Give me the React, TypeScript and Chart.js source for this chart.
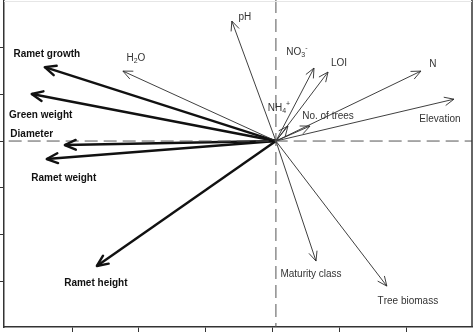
import React, { useEffect, useRef } from 'react';
import { Chart, registerables } from 'chart.js';

Chart.register(...registerables);

// Response variables (bold arrows)
const responseNames = ['Ramet growth', 'Green weight', 'Diameter', 'Ramet weight', 'Ramet height'];
const responseX = [-0.692, -0.731, -0.632, -0.686, -0.536];
const responseY = [0.316, 0.201, -0.017, -0.077, -0.534];
const responseLabelX = [-0.686, -0.704, -0.731, -0.635, -0.539];
const responseLabelY = [0.372, 0.111, 0.03, -0.158, -0.607];

// Environmental variables (thin arrows); "_" = subscript, "^" = superscript
const envNames = ['H_2O', 'pH', 'NO_3^-', 'LOI', 'N', 'Elevation', 'NH_4^+', 'No. of trees', 'Maturity class', 'Tree biomass'];
const envX = [-0.458, -0.132, 0.114, 0.156, 0.434, 0.533, 0.036, 0.102, 0.12, 0.332];
const envY = [0.299, 0.513, 0.312, 0.295, 0.299, 0.179, 0.064, 0.064, -0.513, -0.62];
const envLabelX = [-0.419, -0.093, 0.063, 0.189, 0.47, 0.491, 0.009, 0.156, 0.105, 0.395];
const envLabelY = [0.355, 0.53, 0.38, 0.333, 0.329, 0.094, 0.141, 0.107, -0.568, -0.684];

// Unlabelled axis ticks
const xTicks = [-0.61, -0.41, -0.21, -0.01, 0.19, 0.39];
const yTicks = [0.4, 0.2, 0, -0.2, -0.4, -0.6];
const xMin = -0.814, xMax = 0.587;
const yMin = -0.795, yMax = 0.603;

const FONT = '"Liberation Sans", Arial, Helvetica, sans-serif';

function drawRich(ctx: CanvasRenderingContext2D, text: string, cx: number, cy: number, size: number, weight: string, color: string) {
  const segs: { t: string; k: number }[] = [];
  for (let i = 0; i < text.length; i++) {
    const c = text[i];
    if ((c === '_' || c === '^') && i + 1 < text.length) {
      segs.push({ t: text[i + 1], k: c === '_' ? 1 : -1 });
      i++;
    } else segs.push({ t: c, k: 0 });
  }
  const small = Math.round(size * 0.72);
  let w = 0;
  for (const s of segs) {
    ctx.font = `${weight} ${s.k ? small : size}px ${FONT}`;
    w += ctx.measureText(s.t).width;
  }
  let x = cx - w / 2;
  ctx.fillStyle = color;
  ctx.textBaseline = 'middle';
  ctx.textAlign = 'left';
  for (const s of segs) {
    ctx.font = `${weight} ${s.k ? small : size}px ${FONT}`;
    const dy = s.k === 1 ? 3 : s.k === -1 ? -4 : 0;
    ctx.fillText(s.t, x, cy + dy);
    x += ctx.measureText(s.t).width;
  }
}

const arrowPlugin = {
  id: 'arrowPlugin',
  afterDatasetsDraw(chart: any) {
    const ctx: CanvasRenderingContext2D = chart.ctx;
    const xs = chart.scales.x, ys = chart.scales.y;
    const area = chart.chartArea;
    // frame (right + faint top)
    ctx.save();
    ctx.strokeStyle = '#333';
    ctx.lineWidth = 1.5;
    ctx.beginPath();
    ctx.moveTo(area.right, area.top);
    ctx.lineTo(area.right, area.bottom);
    ctx.stroke();
    ctx.strokeStyle = '#e6e6e6';
    ctx.lineWidth = 1;
    ctx.beginPath();
    ctx.moveTo(area.left, area.top + 1.5);
    ctx.lineTo(area.right, area.top + 1.5);
    ctx.stroke();
    ctx.restore();

    chart.data.datasets.forEach((ds: any) => {
      if (!ds.arrow) return;
      const p0 = ds.data[0], p1 = ds.data[1];
      const ox = xs.getPixelForValue(p0.x), oy = ys.getPixelForValue(p0.y);
      const tx = xs.getPixelForValue(p1.x), ty = ys.getPixelForValue(p1.y);
      const ang = Math.atan2(ty - oy, tx - ox);
      const L = ds.headLen, a = 0.42;
      ctx.save();
      ctx.strokeStyle = ds.borderColor;
      ctx.lineWidth = ds.borderWidth;
      ctx.lineCap = 'round';
      ctx.lineJoin = 'round';
      ctx.beginPath();
      ctx.moveTo(tx - L * Math.cos(ang - a), ty - L * Math.sin(ang - a));
      ctx.lineTo(tx, ty);
      ctx.lineTo(tx - L * Math.cos(ang + a), ty - L * Math.sin(ang + a));
      ctx.stroke();
      ctx.restore();
      const lx = xs.getPixelForValue(ds.labelPos.x), ly = ys.getPixelForValue(ds.labelPos.y);
      ctx.save();
      drawRich(ctx, ds.label, lx, ly, 10, ds.bold ? 'bold' : 'normal', ds.bold ? '#111' : '#333');
      ctx.restore();
    });
  },
};

export default function App() {
  const ref = useRef<HTMLCanvasElement>(null);
  useEffect(() => {
    document.body.style.margin = '0';
    const datasets: any[] = [];
    datasets.push({
      label: 'hzero',
      data: [{ x: -0.8, y: 0 }, { x: xMax, y: 0 }],
      showLine: true, pointRadius: 0, borderColor: '#555', borderWidth: 1, borderDash: [13, 6],
    });
    datasets.push({
      label: 'vzero',
      data: [{ x: 0, y: yMax }, { x: 0, y: yMin }],
      showLine: true, pointRadius: 0, borderColor: '#555', borderWidth: 1, borderDash: [13, 6],
    });
    envNames.forEach((n, i) => {
      datasets.push({
        label: n, arrow: true, bold: false, headLen: 10,
        labelPos: { x: envLabelX[i], y: envLabelY[i] },
        data: [{ x: 0, y: 0 }, { x: envX[i], y: envY[i] }],
        showLine: true, pointRadius: 0, borderColor: '#2a2a2a', borderWidth: 0.9,
      });
    });
    responseNames.forEach((n, i) => {
      datasets.push({
        label: n, arrow: true, bold: true, headLen: 12,
        labelPos: { x: responseLabelX[i], y: responseLabelY[i] },
        data: [{ x: 0, y: 0 }, { x: responseX[i], y: responseY[i] }],
        showLine: true, pointRadius: 0, borderColor: '#111', borderWidth: 2.4,
      });
    });
    const chart = new Chart(ref.current as HTMLCanvasElement, {
      type: 'scatter',
      data: { datasets },
      options: {
        animation: false,
        responsive: false,
        layout: { padding: { left: 0, right: 2, top: 0, bottom: 0 } },
        plugins: { legend: { display: false }, tooltip: { enabled: false } },
        scales: {
          x: {
            type: 'linear', min: xMin, max: xMax,
            afterBuildTicks: (s: any) => { s.ticks = xTicks.map((v) => ({ value: v })); },
            ticks: { display: false },
            grid: { display: true, drawOnChartArea: false, drawTicks: true, tickLength: 5, color: '#333', lineWidth: 1 },
            border: { display: true, color: '#333', width: 1.5 },
          },
          y: {
            type: 'linear', min: yMin, max: yMax,
            afterBuildTicks: (s: any) => { s.ticks = yTicks.map((v) => ({ value: v })); },
            ticks: { display: false },
            grid: { display: true, drawOnChartArea: false, drawTicks: true, tickLength: 4, color: '#333', lineWidth: 1 },
            border: { display: true, color: '#333', width: 1.5 },
          },
        },
      } as any,
      plugins: [arrowPlugin],
    });
    return () => chart.destroy();
  }, []);
  return (
    <div style={{ width: 474, height: 332, background: '#fff' }}>
      <canvas ref={ref} width={474} height={332} style={{ display: 'block' }} />
    </div>
  );
}
